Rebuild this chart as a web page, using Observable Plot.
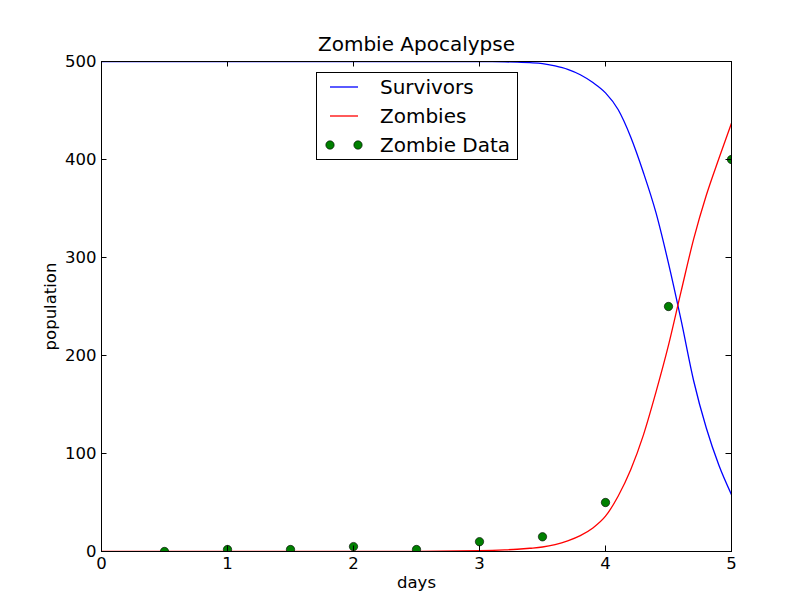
<!DOCTYPE html>
<html>
<head>
<meta charset="utf-8">
<script src="https://cdn.jsdelivr.net/npm/d3@7"></script>
<script src="https://cdn.jsdelivr.net/npm/@observablehq/plot@0.6"></script>
<style>
  html, body { margin: 0; padding: 0; background: white; }
  #wrap { position: relative; width: 812px; height: 612px; font-family: "DejaVu Sans", sans-serif; }
  #legend { position: absolute; left: 316px; top: 72px; }
</style>
</head>
<body>
<div id="wrap"></div>
<script>
// Model curves
const days = [0, 1, 2, 2.5, 3.0, 3.1, 3.2, 3.3, 3.4, 3.5, 3.6, 3.7, 3.8, 3.9, 4.0, 4.1, 4.2, 4.3, 4.4, 4.5, 4.6, 4.7, 4.8, 4.9, 5.0];
const survivors = [500, 500, 500, 500, 499.9, 499.8, 499.6, 499.3, 498.8, 497.9, 495.5, 492, 486.5, 478.5, 468, 451, 423, 387, 346, 294, 236, 174, 126, 88, 58];
const zombies = [0, 0, 0.05, 0.2, 0.8, 1.1, 1.6, 2.3, 3.3, 4.6, 7.1, 10.9, 16.2, 24, 36, 56.4, 83.4, 118.5, 162.4, 210.5, 265.4, 319, 363.5, 401, 437];

// Observed zombie data
const dataDays = [0.5, 1, 1.5, 2, 2.5, 3, 3.5, 4, 4.5, 5];
const dataZombies = [0, 2, 2, 5, 2, 10, 15, 50, 250, 400];

// Ticks
const xTicks = [0, 1, 2, 3, 4, 5];
const yTicks = [0, 100, 200, 300, 400, 500];

const seriesNames = ["Survivors", "Zombies", "Zombie Data"];
const seriesColors = ["#0000ff", "#ff0000", "#008000"];

const survTable = days.map((d, i) => ({day: d, value: survivors[i]}));
const zombTable = days.map((d, i) => ({day: d, value: zombies[i]}));
const obsTable = dataDays.map((d, i) => ({day: d, value: dataZombies[i]}));

const W = 812, H = 612, mL = 101, mR = 81, mT = 61, mB = 61;
const innerW = W - mL - mR, innerH = H - mT - mB;
const tick = 5.5;

const chart = Plot.plot({
  width: W, height: H,
  marginLeft: mL, marginRight: mR, marginTop: mT, marginBottom: mB,
  x: {domain: [0, 5]},
  y: {domain: [0, 500]},
  style: {fontFamily: "DejaVu Sans", fontSize: "16.5px", background: "white", color: "black"},
  marks: [
    Plot.line(survTable, {x: "day", y: "value", stroke: seriesColors[0], strokeWidth: 1.3, curve: "monotone-x", clip: true}),
    Plot.line(zombTable, {x: "day", y: "value", stroke: seriesColors[1], strokeWidth: 1.3, curve: "monotone-x", clip: true}),
    Plot.dot(obsTable, {x: "day", y: "value", r: 4.2, fill: seriesColors[2], stroke: "black", strokeWidth: 0.6, clip: true}),
    Plot.frame({stroke: "black", strokeWidth: 1}),
    Plot.tickX(xTicks, {x: d => d, insetTop: innerH - tick, stroke: "black"}),
    Plot.tickX(xTicks, {x: d => d, insetBottom: innerH - tick, stroke: "black"}),
    Plot.tickY(yTicks, {y: d => d, insetRight: innerW - tick, stroke: "black"}),
    Plot.tickY(yTicks, {y: d => d, insetLeft: innerW - tick, stroke: "black"}),
    Plot.axisX(xTicks, {tickSize: 0, tickPadding: 5.5, label: null, fontSize: 16.5, tickFormat: d3.format("d")}),
    Plot.axisY(yTicks, {tickSize: 0, tickPadding: 5, label: null, fontSize: 16.5, tickFormat: d3.format("d")}),
    Plot.text(["Zombie Apocalypse"], {text: d => d, frameAnchor: "top", lineAnchor: "middle", textAnchor: "middle", dy: -17, fontSize: 20}),
    Plot.text(["days"], {text: d => d, frameAnchor: "bottom", lineAnchor: "middle", textAnchor: "middle", dy: 31, fontSize: 16.5}),
    Plot.text(["population"], {text: d => d, frameAnchor: "left", lineAnchor: "middle", textAnchor: "middle", dx: -51, rotate: -90, fontSize: 16.5})
  ]
});
document.getElementById("wrap").appendChild(chart);

// Legend
const lw = 202, lh = 88;
const leg = d3.create("svg").attr("id", "legend").attr("width", lw).attr("height", lh)
  .style("font-family", "DejaVu Sans").style("font-size", "20px");
leg.append("rect").attr("x", 0.5).attr("y", 0.5).attr("width", lw - 1).attr("height", lh - 1)
  .attr("fill", "white").attr("stroke", "black").attr("stroke-width", 1);
const rowY = [15, 44, 73];
seriesNames.forEach((name, i) => {
  const y = rowY[i];
  if (i < 2) {
    leg.append("line").attr("x1", 14).attr("x2", 42).attr("y1", y).attr("y2", y)
      .attr("stroke", seriesColors[i]).attr("stroke-width", 1.3);
  } else {
    [14, 42].forEach(cx => leg.append("circle").attr("cx", cx).attr("cy", y).attr("r", 4.2)
      .attr("fill", seriesColors[i]).attr("stroke", "black").attr("stroke-width", 0.6));
  }
  leg.append("text").attr("x", 64).attr("y", y).attr("dy", "0.35em").attr("fill", "black").text(name);
});
document.getElementById("wrap").appendChild(leg.node());
</script>
</body>
</html>
